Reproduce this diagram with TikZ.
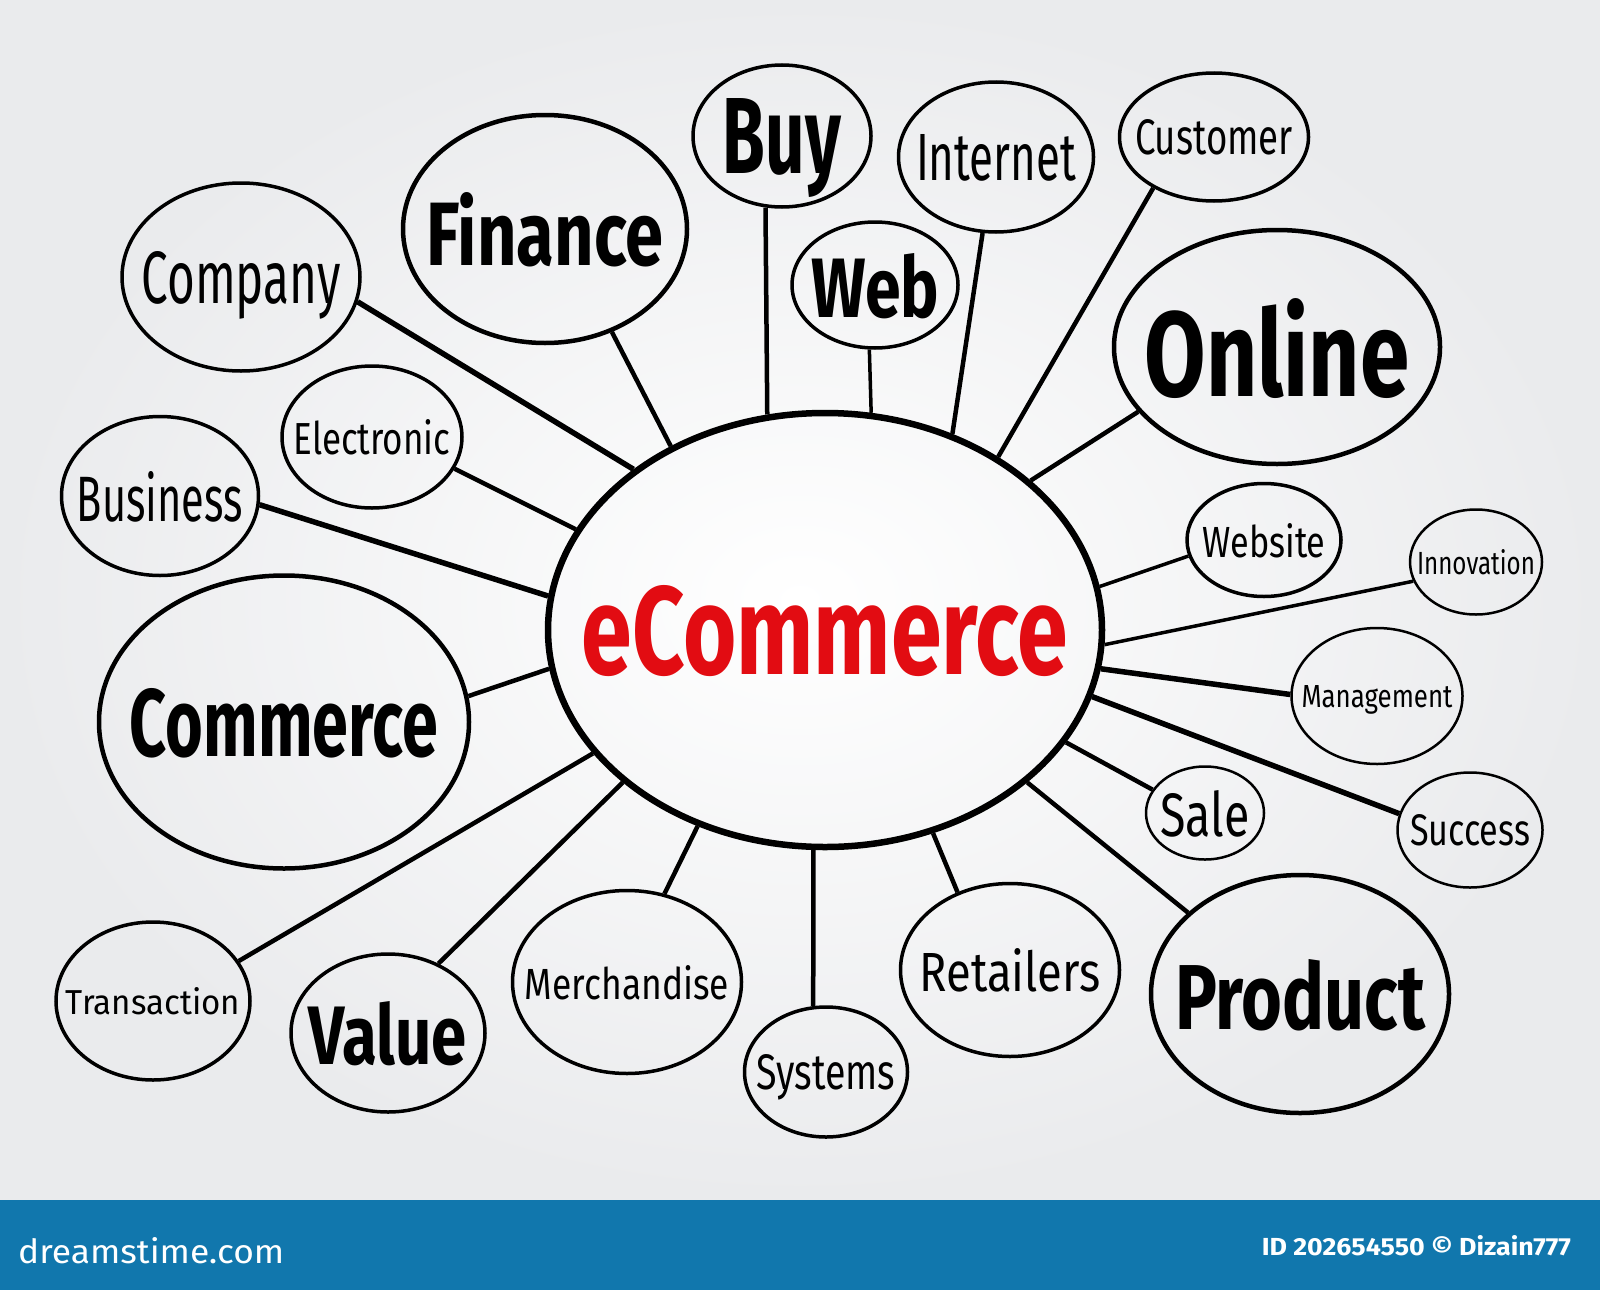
\documentclass[tikz,border=0pt]{standalone}
\usepackage{fontspec}
\setmainfont{Fira Sans}
\usepackage{graphicx}
\usetikzlibrary{shapes.geometric}
\definecolor{ecred}{RGB}{226,12,18}
\definecolor{footblue}{RGB}{17,119,173}
\definecolor{bggray}{RGB}{234,235,237}
% word squeezed to a given width and height (in pt), taking no room in its node
\newcommand{\wrd}[3]{\smash{\makebox[0pt]{\raisebox{-0.5\height}{\resizebox{#1pt}{#2pt}{#3}}}}}

\begin{document}
\begin{tikzpicture}[x=1pt, y=-1pt,
    bub/.style={ellipse, draw, line width=3.5pt, inner sep=0pt},
    big/.style={bub, line width=4.5pt},
    link/.style={line width=4.5pt}]
    \useasboundingbox (0,0) rectangle (1600,1290);
    \shade[inner color=white, outer color=bggray] (0,0) rectangle (1600,1200);
    % centre
    \node[bub, line width=6.5pt, minimum width=554, minimum height=434, text=ecred] (ecom) at (825,630) {\wrd{486}{89}{\bfseries eCommerce}};
    % top left
    \node[bub, minimum width=238, minimum height=188] (company) at (241,277) {\wrd{199}{52}{Company}};
    \node[big, minimum width=284, minimum height=228] (finance) at (545,229) {\wrd{237}{73}{\bfseries Finance}};
    \node[bub, minimum width=178, minimum height=142] (buy) at (782,136) {\wrd{118}{75}{\bfseries Buy}};
    \node[bub, minimum width=195, minimum height=150] (internet) at (996,157) {\wrd{160}{46}{Internet}};
    \node[bub, minimum width=189, minimum height=128] (customer) at (1214,137) {\wrd{158}{35}{Customer}};
    \node[bub, minimum width=166, minimum height=126] (web) at (875,285) {\wrd{128}{64}{\bfseries Web}};
    \node[big, minimum width=326, minimum height=234] (online) at (1277,347) {\wrd{265}{98}{\bfseries Online}};
    \node[bub, minimum width=180, minimum height=142] (electronic) at (372,437) {\wrd{157}{35}{Electronic}};
    \node[bub, minimum width=197, minimum height=159] (business) at (160,496) {\wrd{166}{50}{Business}};
    % right side
    \node[bub, minimum width=154, minimum height=113] (website) at (1264,540) {\wrd{123}{34}{Website}};
    \node[bub, line width=2.5pt, minimum width=132, minimum height=105] (innovation) at (1476,562) {\wrd{118}{25}{Innovation}};
    \node[bub, line width=2.5pt, minimum width=171, minimum height=136] (management) at (1377,696) {\wrd{151}{22}{Management}};
    \node[bub, line width=2.5pt, minimum width=145, minimum height=115] (success) at (1470,830) {\wrd{120}{31}{Success}};
    \node[bub, line width=2.5pt, minimum width=118, minimum height=93] (sale) at (1205,813) {\wrd{89}{46}{Sale}};
    \node[big, minimum width=298, minimum height=238] (product) at (1300,994) {\wrd{250}{70}{\bfseries Product}};
    % bottom and left
    \node[bub, minimum width=219, minimum height=173] (retailers) at (1010,970) {\wrd{181}{43}{Retailers}};
    \node[bub, minimum width=163, minimum height=130] (systems) at (826,1072) {\wrd{139}{35}{Systems}};
    \node[bub, minimum width=229, minimum height=183] (merchandise) at (627,982) {\wrd{204}{34}{Merchandise}};
    \node[bub, minimum width=194, minimum height=158] (value) at (388,1033) {\wrd{158}{63}{\bfseries Value}};
    \node[bub, minimum width=194, minimum height=158] (transaction) at (153,1001) {\wrd{174}{27}{Transaction}};
    \node[big, minimum width=370, minimum height=293] (commerce) at (284,722) {\wrd{308}{68}{\bfseries Commerce}};
    % spokes
    \draw[link, line width=5.5pt] (company.348) -- (ecom.140);
    \draw[link] (finance.303) -- (ecom.130);
    \draw[link] (electronic.339) -- (ecom.158);
    \draw[link, line width=5.5pt] (business.355) -- (ecom.173);
    \draw[link] (buy.257) -- (ecom.105);
    \draw[link, line width=3.5pt] (web.265) -- (ecom.78);
    \draw[link] (internet.260) -- (ecom.57);
    \draw[link] (customer.220) -- (ecom.45);
    \draw[link] (online.205) -- (ecom.36);
    \draw[link, line width=3.5pt] (website.192) -- (ecom.9);
    \draw[link, line width=3.5pt] (innovation.197) -- (ecom.357);
    \draw[link, line width=5.5pt] (management.179) -- (ecom.352);
    \draw[link, line width=5.5pt] (success.167) -- (ecom.346);
    \draw[link] (sale.156) -- (ecom.335);
    \draw[link] (product.144) -- (ecom.323);
    \draw[link] (retailers.124) -- (ecom.298);
    \draw[link] (systems.101) -- (ecom.267);
    \draw[link] (merchandise.67) -- (ecom.237);
    \draw[link] (value.54) -- (ecom.217);
    \draw[link] (transaction.25) -- (ecom.208);
    \draw[link] (commerce.8) -- (ecom.188);
    % footer
    \fill[footblue] (0,1200) rectangle (1600,1290);
    \node[anchor=base west, inner sep=0pt, text=white] (site) at (18,1263) {\resizebox{266pt}{26pt}{dreamstime.com}};
    \node[anchor=base east, inner sep=0pt, text=white] (imgid) at (1571,1255) {\resizebox{309pt}{20pt}{\bfseries ID 202654550 © Dizain777}};
\end{tikzpicture}
\end{document}
